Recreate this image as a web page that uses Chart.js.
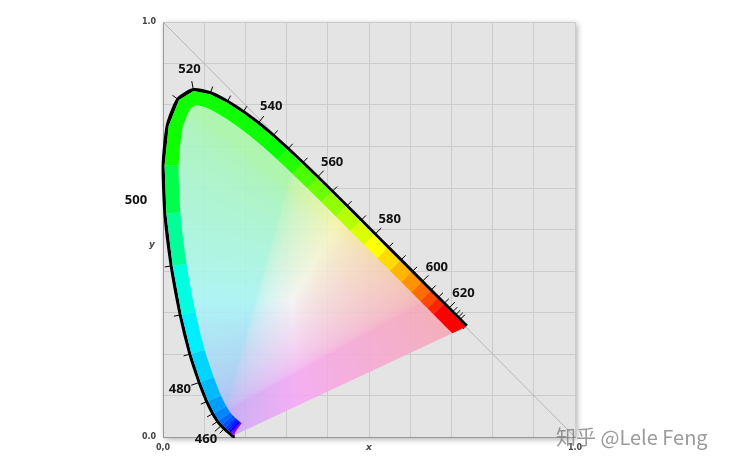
<!DOCTYPE html>
<html>
<head>
<meta charset="utf-8">
<script src="https://cdn.jsdelivr.net/npm/chart.js@4.4.0/dist/chart.umd.min.js"></script>
<style>
  body { margin: 0; background: #fff; }
  #wrap { width: 742px; height: 469px; }
</style>
</head>
<body>
<div id="wrap"><canvas id="cie"></canvas></div>
<script>
// CIE 1931 spectral locus, 5 nm steps
var wavelengths = [380,385,390,395,400,405,410,415,420,425,430,435,440,445,450,455,460,465,470,475,480,485,490,495,500,505,510,515,520,525,530,535,540,545,550,555,560,565,570,575,580,585,590,595,600,605,610,615,620,625,630,635,640,645,650,655,660,680,700];
var locusX = [0.1741,0.1740,0.1738,0.1736,0.1733,0.1730,0.1726,0.1721,0.1714,0.1703,0.1689,0.1669,0.1644,0.1611,0.1566,0.1510,0.1440,0.1355,0.1241,0.1096,0.0913,0.0687,0.0454,0.0235,0.0082,0.0039,0.0139,0.0389,0.0743,0.1142,0.1547,0.1929,0.2296,0.2658,0.3016,0.3373,0.3731,0.4087,0.4441,0.4788,0.5125,0.5448,0.5752,0.6029,0.6270,0.6482,0.6658,0.6801,0.6915,0.7006,0.7079,0.7140,0.7190,0.7230,0.7260,0.7283,0.7300,0.7334,0.7347];
var locusY = [0.0050,0.0050,0.0049,0.0049,0.0048,0.0048,0.0048,0.0048,0.0051,0.0058,0.0069,0.0086,0.0109,0.0138,0.0177,0.0227,0.0297,0.0399,0.0578,0.0868,0.1327,0.2007,0.2950,0.4127,0.5384,0.6548,0.7502,0.8120,0.8338,0.8262,0.8059,0.7816,0.7543,0.7243,0.6923,0.6589,0.6245,0.5896,0.5547,0.5202,0.4866,0.4544,0.4242,0.3965,0.3725,0.3514,0.3340,0.3197,0.3083,0.2993,0.2920,0.2859,0.2809,0.2770,0.2740,0.2717,0.2700,0.2666,0.2653];
var labelWavelengths = [460,480,520,540,560,580,600,620];
var tickLabels = ['0,0','1.0'];

var locusPts = wavelengths.map(function(w, i){ return {x: locusX[i], y: locusY[i]}; });

// wavelength -> display colour
function waveColor(w){
  var r=0,g=0,b=0;
  if (w < 440) { r = (440-w)/60*0.6 + 0.35; b = 1; }
  else if (w < 488) { g = (w-440)/48; b = 1; }
  else if (w < 505) { g = 1; b = (505-w)/17; }
  else if (w < 545) { g = 1; r = 0.05; }
  else if (w < 580) { r = (w-545)/35; g = 1; }
  else if (w < 615) { r = 1; g = (615-w)/35; }
  else { r = 1; }
  return 'rgb(' + Math.round(r*255) + ',' + Math.round(g*255) + ',' + Math.round(b*255) + ')';
}

function locusPath(ctx, xs, ys){
  wavelengths.forEach(function(w, i){
    var px = xs.getPixelForValue(locusX[i]), py = ys.getPixelForValue(locusY[i]);
    if (i == 0) ctx.moveTo(px, py); else ctx.lineTo(px, py);
  });
  ctx.closePath();
}

var backPlugin = {
  id: 'back',
  beforeDraw: function(chart){
    var ctx = chart.ctx, a = chart.chartArea;
    ctx.save();
    ctx.shadowColor = 'rgba(0,0,0,0.35)';
    ctx.shadowBlur = 6;
    ctx.shadowOffsetX = 2; ctx.shadowOffsetY = 2;
    ctx.fillStyle = '#e4e4e4';
    ctx.fillRect(a.left, a.top, a.right - a.left, a.bottom - a.top);
    ctx.restore();
  },
  beforeDatasetsDraw: function(chart){
    var ctx = chart.ctx, a = chart.chartArea;
    var xs = chart.scales.x, ys = chart.scales.y;
    var w = Math.round(a.right - a.left), h = Math.round(a.bottom - a.top);
    var off = document.createElement('canvas');
    off.width = w; off.height = h;
    var octx = off.getContext('2d');
    var img = octx.createImageData(w, h);
    for (var j = 0; j < h; j++) {
      var cy = ys.getValueForPixel(a.top + j + 0.5);
      for (var i = 0; i < w; i++) {
        var cx = xs.getValueForPixel(a.left + i + 0.5);
        if (cy <= 0.001) continue;
        var X = cx / cy, Y = 1, Z = (1 - cx - cy) / cy;
        var r = 3.2406*X - 1.5372*Y - 0.4986*Z;
        var g = -0.9689*X + 1.8758*Y + 0.0415*Z;
        var b = 0.0557*X - 0.2040*Y + 1.0570*Z;
        r = Math.max(r,0); g = Math.max(g,0); b = Math.max(b,0);
        var m = Math.max(r,g,b) || 1;
        var c = [r/m, g/m, b/m].map(function(v){ v = Math.pow(v, 1/2.2); return 0.3*v + 0.66; });
        var k = (j*w + i)*4;
        img.data[k] = c[0]*255; img.data[k+1] = c[1]*255; img.data[k+2] = c[2]*255; img.data[k+3] = 230;
      }
    }
    octx.putImageData(img, 0, 0);
    ctx.save();
    ctx.beginPath();
    locusPath(ctx, xs, ys);
    ctx.clip();
    ctx.drawImage(off, a.left, a.top);
    ctx.restore();
  },
  // black outline only outside the locus, colour band only inside
  beforeDatasetDraw: function(chart, args){
    if (args.index != 1 && args.index != 2) return;
    var ctx = chart.ctx;
    ctx.save();
    ctx.beginPath();
    if (args.index == 1) {
      ctx.rect(0, 0, chart.width, chart.height);
      locusPath(ctx, chart.scales.x, chart.scales.y);
      ctx.clip('evenodd');
    } else {
      locusPath(ctx, chart.scales.x, chart.scales.y);
      ctx.clip();
    }
  },
  afterDatasetDraw: function(chart, args){
    if (args.index == 1 || args.index == 2) chart.ctx.restore();
  },
  afterDatasetsDraw: function(chart){
    var ctx = chart.ctx, xs = chart.scales.x, ys = chart.scales.y, a = chart.chartArea;
    var wx = xs.getPixelForValue(0.33), wy = ys.getPixelForValue(0.33);
    ctx.save();
    ctx.strokeStyle = '#000'; ctx.lineWidth = 1;
    ctx.fillStyle = '#111';
    ctx.font = 'bold 13px "Open Sans", sans-serif';
    ctx.textAlign = 'center'; ctx.textBaseline = 'middle';
    wavelengths.forEach(function(wl, i){
      if (wl < 455 || wl > 640 || (wl > 495 && wl < 515)) return;
      var px = xs.getPixelForValue(locusX[i]), py = ys.getPixelForValue(locusY[i]);
      var p0 = i > 0 ? i-1 : i, p1 = i+1;
      var tx = xs.getPixelForValue(locusX[p1]) - xs.getPixelForValue(locusX[p0]);
      var ty = ys.getPixelForValue(locusY[p1]) - ys.getPixelForValue(locusY[p0]);
      var len = Math.hypot(tx, ty) || 1;
      var nx = -ty/len, ny = tx/len;
      if ((px - wx)*nx + (py - wy)*ny < 0) { nx = -nx; ny = -ny; }
      var big = labelWavelengths.indexOf(wl) >= 0;
      ctx.beginPath();
      ctx.moveTo(px + nx*2, py + ny*2);
      ctx.lineTo(px + nx*(big ? 10 : 8), py + ny*(big ? 10 : 8));
      ctx.stroke();
      if (big) ctx.fillText(String(wl), px + nx*22, py + ny*22);
    });
    // 500 label sits beside the left edge
    ctx.fillText('500', a.left - 27, ys.getPixelForValue(0.57));
    // axis labels
    ctx.font = 'bold 8px "DejaVu Sans", sans-serif';
    ctx.fillStyle = '#444';
    ctx.fillText('1.0', a.left - 14, a.top);
    ctx.fillText('0.0', a.left - 14, a.bottom);
    ctx.fillText(tickLabels[0], a.left, a.bottom + 11);
    ctx.fillText(tickLabels[1], a.right, a.bottom + 11);
    ctx.font = 'bold italic 9px "DejaVu Sans", sans-serif';
    ctx.fillText('x', (a.left + a.right)/2, a.bottom + 11);
    ctx.fillText('y', a.left - 11, (a.top + a.bottom)/2 + 15);
    // watermark
    ctx.font = '20px "Noto Sans CJK SC", sans-serif';
    ctx.textAlign = 'left';
    ctx.fillStyle = 'rgba(120,120,120,0.75)';
    ctx.fillText('知乎 @Lele Feng', 556, 437);
    ctx.restore();
  }
};

new Chart(document.getElementById('cie'), {
  type: 'scatter',
  data: {
    datasets: [
      { data: [{x:0,y:1},{x:1,y:0}], showLine: true, borderColor: '#b5b5b5', borderWidth: 1, pointRadius: 0, order: 3 },
      { data: locusPts, showLine: true, borderColor: '#000', borderWidth: 6, pointRadius: 0, tension: 0.2, borderCapStyle: 'butt', order: 2, clip: false },
      { data: locusPts, showLine: true, borderColor: '#0f0', borderWidth: 28, pointRadius: 0, tension: 0.2, borderCapStyle: 'butt', order: 1, clip: false,
        segment: { borderColor: function(c){ return waveColor(wavelengths[c.p0DataIndex]); } } }
    ]
  },
  options: {
    responsive: true,
    maintainAspectRatio: false,
    animation: false,
    layout: { padding: { left: 163, right: 167, top: 22, bottom: 32 } },
    plugins: { legend: { display: false }, tooltip: { enabled: false } },
    scales: {
      x: { type: 'linear', min: 0, max: 1, ticks: { display: false, stepSize: 0.1 },
           grid: { color: '#cbcbcb', drawTicks: false }, border: { color: '#9a9a9a' } },
      y: { min: 0, max: 1, ticks: { display: false, stepSize: 0.1 },
           grid: { color: '#cbcbcb', drawTicks: false }, border: { color: '#9a9a9a' } }
    }
  },
  plugins: [backPlugin]
});
</script>
</body>
</html>
